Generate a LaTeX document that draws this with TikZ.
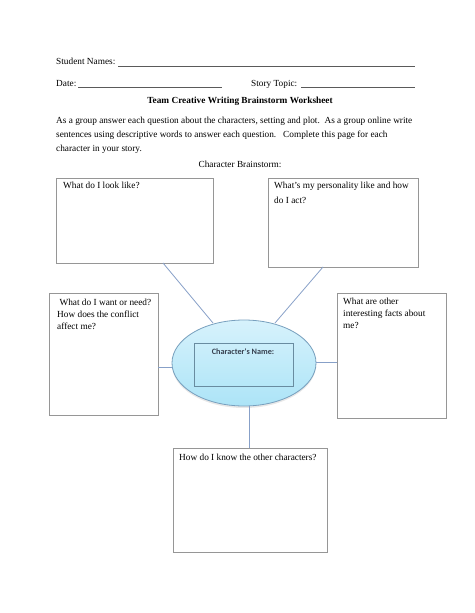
\documentclass[tikz,border=0pt]{standalone}
\usepackage{fontspec}
\setmainfont{Liberation Serif}
\newfontfamily\calibrifont{Carlito}
\usetikzlibrary{shapes.geometric,shadows}
\definecolor{boxgray}{RGB}{150,150,150}
\definecolor{linkblue}{RGB}{135,160,200}
\definecolor{ellborder}{RGB}{120,160,190}
\definecolor{elltop}{RGB}{215,242,252}
\definecolor{ellbot}{RGB}{172,228,247}
\definecolor{innerborder}{RGB}{105,140,160}
\definecolor{nametext}{RGB}{55,65,80}
\definecolor{rulegray}{RGB}{90,90,90}
\begin{document}
\begin{tikzpicture}[x=1pt,y=-1pt,
  font=\fontsize{9.3}{13}\selectfont,
  txt/.style={anchor=base west,inner sep=0pt},
  ctxt/.style={anchor=base,inner sep=0pt},
  qbox/.style={draw=boxgray,line width=0.8pt,anchor=north west,inner sep=0pt},
  link/.style={draw=linkblue,line width=0.8pt},
  rule/.style={draw=rulegray,line width=0.45pt}]
\useasboundingbox[fill=white] (0,0) rectangle (474,613);
% header
\node[txt] (sn) at (56,64) {Student Names:};
\draw[rule] (118,66) -- (415,66);
\node[txt] (dt) at (56,86) {Date:};
\draw[rule] (78,87) -- (222,87);
\node[txt] (st) at (251,86) {Story Topic:};
\draw[rule] (301,87) -- (415,87);
\node[ctxt] (title) at (240,103) {\bfseries Team Creative Writing Brainstorm Worksheet};
\node[txt] (p1) at (56,123) {As a group answer each question about the characters, setting and plot.\ \ As a group online write};
\node[txt] (p2) at (56,137) {sentences using descriptive words to answer each question.\ \ \ Complete this page for each};
\node[txt] (p3) at (56,151) {character in your story.};
\node[ctxt] (cb) at (240,167) {Character Brainstorm:};
% boxes
\node[qbox,minimum width=157pt,minimum height=85pt] (b1) at (56,178) {};
\node[qbox,minimum width=150pt,minimum height=89pt] (b2) at (268,178) {};
\node[qbox,minimum width=109pt,minimum height=122pt] (b3) at (49,293) {};
\node[qbox,minimum width=109pt,minimum height=125pt] (b4) at (337,293) {};
\node[qbox,minimum width=154pt,minimum height=104pt] (b5) at (173,448) {};
% ellipse
\node[ellipse,draw=ellborder,line width=0.8pt,top color=elltop,bottom color=ellbot,
  drop shadow={opacity=0.18,shadow xshift=0pt,shadow yshift=-2pt},
  minimum width=144pt,minimum height=86pt,inner sep=0pt] (ell) at (244,363) {};
\node[draw=innerborder,line width=0.6pt,minimum width=99pt,minimum height=43pt,inner sep=0pt,anchor=north west] (nm) at (194,343) {};
\node[ctxt,text=nametext,font=\calibrifont\bfseries\fontsize{8.2}{10}\selectfont] (nmt) at (243,354) {Character's Name:};
% box texts
\node[txt] (t1) at (63,188) {What do I look like?};
\node[txt] (t2a) at (274,188) {What’s my personality like and how};
\node[txt] (t2b) at (274,203) {do I act?};
\node[txt] (t3a) at (57,305) {\ What do I want or need?};
\node[txt] (t3b) at (57,317) {How does the conflict};
\node[txt] (t3c) at (57,329) {affect me?};
\node[txt] (t4a) at (343,304) {What are other};
\node[txt] (t4b) at (343,316) {interesting facts about};
\node[txt] (t4c) at (343,328) {me?};
\node[txt] (t5) at (179,460) {How do I know the other characters?};
% connector ends
\coordinate (l1a) at (163,263);
\coordinate (l1b) at (213,323);
\coordinate (l2a) at (323,267);
\coordinate (l2b) at (275,323);
\coordinate (l3a) at (158,367);
\coordinate (l3b) at (172,367);
\coordinate (l4a) at (316,362);
\coordinate (l4b) at (337,362);
\coordinate (l5a) at (249,406);
\coordinate (l5b) at (249,448);
\draw[link] (l1a) -- (l1b);
\draw[link] (l2a) -- (l2b);
\draw[link] (l3a) -- (l3b);
\draw[link] (l4a) -- (l4b);
\draw[link] (l5a) -- (l5b);
\end{tikzpicture}
\end{document}
